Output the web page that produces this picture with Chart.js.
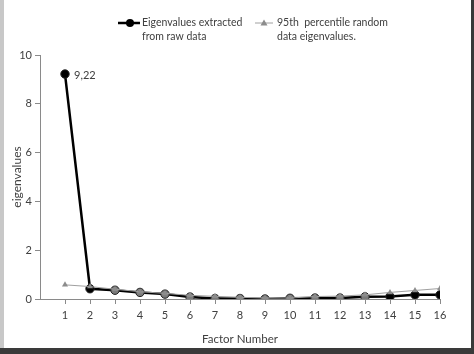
<!DOCTYPE html>
<html>
<head>
<meta charset="utf-8">
<script src="https://cdn.jsdelivr.net/npm/chart.js@4.4.1/dist/chart.umd.min.js"></script>
<style>
  html,body{margin:0;padding:0;background:#fff;}
  #wrap{width:474px;height:354px;position:relative;}
</style>
</head>
<body>
<div id="wrap"><canvas id="c" width="474" height="354"></canvas></div>
<script>
// data
const factors=[1,2,3,4,5,6,7,8,9,10,11,12,13,14,15,16];
const eigenRaw=[9.22,0.42,0.36,0.27,0.2,0.08,0.02,0.02,0.0,0.03,0.04,0.04,0.09,0.1,0.17,0.17];
const eigenRandom=[0.58,0.51,0.4,0.3,0.23,0.15,0.11,0.07,0.04,0.04,0.1,0.12,0.17,0.27,0.35,0.43];
const yTicks=[0,2,4,6,8,10];
const seriesNames=[["Eigenvalues extracted","from raw data"],["95th  percentile random","data eigenvalues."]];
const peakLabel="9,22";

const FONT="Lato, 'Open Sans', sans-serif";
const TXT="#404040";

function pts(ys){
  return factors.map((f,i)=>({x:f,y:ys[i]}));
}

// frame + legend + value label
const extras={
  id:'extras',
  beforeDraw(chart){
    const ctx=chart.ctx;
    ctx.save();
    ctx.fillStyle="#fff";
    ctx.fillRect(0,0,chart.width,chart.height);
    ctx.restore();
  },
  afterDraw(chart){
    const ctx=chart.ctx;
    ctx.save();
    // frame
    ctx.fillStyle="#c8c8c8";
    ctx.fillRect(0,0,4,354);
    ctx.fillStyle="#3a3a3a";
    ctx.fillRect(471,0,3,354);
    ctx.fillRect(0,348,474,6);

    // legend
    ctx.font="10.5px "+FONT;
    ctx.textBaseline="middle";
    // entry 1
    ctx.strokeStyle="#000";
    ctx.lineWidth=2.5;
    ctx.beginPath();ctx.moveTo(118,23);ctx.lineTo(140,23);ctx.stroke();
    ctx.fillStyle="#000";
    ctx.beginPath();ctx.arc(130,23,4,0,Math.PI*2);ctx.fill();
    ctx.fillStyle=TXT;
    ctx.fillText(seriesNames[0][0],142,23);
    ctx.fillText(seriesNames[0][1],142,37);
    // entry 2
    ctx.strokeStyle="#a0a0a0";
    ctx.lineWidth=1;
    ctx.beginPath();ctx.moveTo(255,23);ctx.lineTo(273,23);ctx.stroke();
    ctx.fillStyle="#8c8c8c";
    ctx.beginPath();ctx.moveTo(264,19.5);ctx.lineTo(267.5,25.5);ctx.lineTo(260.5,25.5);ctx.closePath();ctx.fill();
    ctx.fillStyle=TXT;
    ctx.fillText(seriesNames[1][0],277,23);
    ctx.fillText(seriesNames[1][1],277,37);

    // value label next to first point
    const xs=chart.scales.x, ys=chart.scales.y;
    ctx.font="11px "+FONT;
    ctx.textAlign="left";
    ctx.fillText(peakLabel,xs.getPixelForValue(factors[0])+9,ys.getPixelForValue(eigenRaw[0])+1);
    ctx.restore();
  }
};

const rawFill=eigenRaw.map((v,i)=>(i<2||i>12)?"#000":"#7a7a7a");

new Chart(document.getElementById('c'),{
  type:'scatter',
  data:{
    datasets:[
      {
        label:seriesNames[1].join(' '),
        data:pts(eigenRandom),
        showLine:true,
        borderColor:"#a0a0a0",
        borderWidth:1,
        pointStyle:'triangle',
        pointRadius:3.5,
        pointBackgroundColor:"#8c8c8c",
        pointBorderColor:"#8c8c8c",
        pointBorderWidth:0,
        order:1
      },
      {
        label:seriesNames[0].join(' '),
        data:pts(eigenRaw),
        showLine:true,
        borderColor:"#000",
        borderWidth:2.5,
        pointStyle:'circle',
        pointRadius:4.2,
        pointBackgroundColor:rawFill,
        pointBorderColor:"#222",
        pointBorderWidth:1,
        order:2
      }
    ]
  },
  options:{
    responsive:false,
    animation:false,
    devicePixelRatio:1,
    layout:{padding:{top:55,right:34,bottom:0,left:0}},
    plugins:{legend:{display:false},tooltip:{enabled:false}},
    scales:{
      x:{
        type:'linear',
        min:0,max:16,
        afterFit(s){s.height=55;},
        afterBuildTicks(s){s.ticks=factors.map(v=>({value:v}));},
        ticks:{
          color:TXT,
          font:{family:FONT,size:11},
          padding:5,
          maxRotation:0,
          autoSkip:false
        },
        grid:{display:true,drawOnChartArea:false,drawTicks:true,tickLength:5,color:"#8a8a8a"},
        border:{display:true,color:"#8a8a8a",width:1},
        title:{display:true,text:"Factor Number",color:TXT,font:{family:FONT,size:11.5},padding:{top:4,bottom:8}}
      },
      y:{
        type:'linear',
        min:0,max:10,
        afterFit(s){s.width=40;},
        afterBuildTicks(s){s.ticks=yTicks.map(v=>({value:v}));},
        ticks:{
          color:TXT,
          font:{family:FONT,size:11},
          padding:3
        },
        grid:{display:true,drawOnChartArea:false,drawTicks:true,tickLength:5,color:"#8a8a8a"},
        border:{display:true,color:"#8a8a8a",width:1},
        title:{display:true,text:"eigenvalues",color:TXT,font:{family:FONT,size:12},padding:{top:10,bottom:4}}
      }
    }
  },
  plugins:[extras]
});
</script>
</body>
</html>
